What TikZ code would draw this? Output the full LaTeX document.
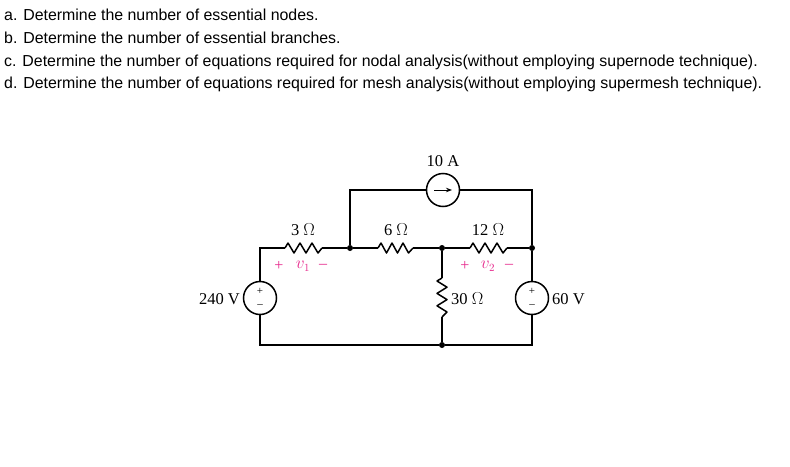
\documentclass[tikz,border=0pt]{standalone}
\usepackage{fontspec}
\setmainfont{Liberation Serif}
\newfontfamily\qfont{Liberation Sans}
\usetikzlibrary{arrows.meta}
\definecolor{pinkc}{RGB}{230,40,140}
\begin{document}
\begin{tikzpicture}[x=1pt,y=-1pt,
  wire/.style={line width=1.5pt},
  qtext/.style={anchor=base west,inner sep=0pt,font=\qfont\fontsize{15.9}{17}\selectfont},
  lbl/.style={inner sep=1pt,font=\fontsize{16.5}{18}\selectfont},
  pol/.style={inner sep=0pt,text=pinkc,font=\fontsize{16}{18}\selectfont},
  dot/.style={circle,fill,inner sep=0pt,minimum size=6pt},
  sgn/.style={inner sep=0pt,font=\fontsize{11}{11}\selectfont},
  src/.style={circle,draw,line width=1.5pt,minimum size=33pt,inner sep=0pt}]
\useasboundingbox (0,0) rectangle (790,466);
\node[qtext] (t1) at (4,20) {a. Determine the number of essential nodes.};
\node[qtext] (t2) at (4,43) {b. Determine the number of essential branches.};
\node[qtext] (t3) at (4,66) {c. Determine the number of equations required for nodal analysis(without employing supernode technique).};
\node[qtext] (t4) at (4,88) {d. Determine the number of equations required for mesh analysis(without employing supermesh technique).};
% nodes
\coordinate (tl) at (260,248);
\coordinate (bl) at (260,345);
\node[dot] (n1) at (350,248) {};
\node[dot] (n2) at (442,248) {};
\node[dot] (n3) at (532,248) {};
\node[dot] (nb) at (442,345) {};
\coordinate (br) at (532,345);
\coordinate (ta) at (350,190);
\coordinate (tb) at (532,190);
\node[src] (cs) at (443,190) {};
\draw[-{Stealth[length=6pt]},line width=1pt] ([xshift=-9pt]cs.center) -- ([xshift=9pt]cs.center);
\node[src] (vs1) at (260,298) {};
\node[src] (vs2) at (532,298) {};
\node[sgn] (vs1p) at (260,291) {+};
\node[sgn] (vs1m) at (260,306) {\textendash};
\node[sgn] (vs2p) at (532,291) {+};
\node[sgn] (vs2m) at (532,306) {\textendash};
% resistors
\coordinate (r1a) at (285,248); \coordinate (r1b) at (322,248);
\coordinate (r2a) at (378,248); \coordinate (r2b) at (413,248);
\coordinate (r3a) at (470,248); \coordinate (r3b) at (507,248);
\coordinate (r4a) at (442,278); \coordinate (r4b) at (442,317);
\draw[wire,line join=round] (r1a) -- ++(3,-5) -- ++(6,10) -- ++(6,-10) -- ++(6,10) -- ++(6,-10) -- ++(6,10) -- (r1b);
\draw[wire,line join=round] (r2a) -- ++(3,-5) -- ++(5.5,10) -- ++(5.5,-10) -- ++(5.5,10) -- ++(5.5,-10) -- ++(5.5,10) -- (r2b);
\draw[wire,line join=round] (r3a) -- ++(3,-5) -- ++(6,10) -- ++(6,-10) -- ++(6,10) -- ++(6,-10) -- ++(6,10) -- (r3b);
\draw[wire,line join=round] (r4a) -- ++(-5,3) -- ++(10,6.2) -- ++(-10,6.2) -- ++(10,6.2) -- ++(-10,6.2) -- ++(10,6.2) -- (r4b);
% wires
\draw[wire] (vs1.north) -- (tl) -- (r1a);
\draw[wire] (r1b) -- (n1) -- (r2a);
\draw[wire] (r2b) -- (n2) -- (r3a);
\draw[wire] (r3b) -- (n3) -- (vs2.north);
\draw[wire] (n2) -- (r4a);
\draw[wire] (r4b) -- (nb);
\draw[wire] (vs1.south) -- (bl) -- (nb) -- (br) -- (vs2.south);
\draw[wire] (n1) -- (ta) -- (cs.west);
\draw[wire] (cs.east) -- (tb) -- (n3);
% labels
\node[lbl] (l10) at (443,161) {10 A};
\node[lbl] (l3) at (303,230) {3 $\Omega$};
\node[lbl] (l6) at (396,230) {6 $\Omega$};
\node[lbl] (l12) at (488,230) {12 $\Omega$};
\node[lbl,anchor=west] (l30) at (450,299) {30 $\Omega$};
\node[lbl,anchor=east] (l240) at (241,299) {240 V};
\node[lbl,anchor=west] (l60) at (551,299) {60 V};
\node[pol] (p1) at (279,266) {+};
\node[pol] (v1) at (303,266) {$v_1$};
\node[pol] (m1) at (323,266) {\textendash};
\node[pol] (p2) at (465,266) {+};
\node[pol] (v2) at (488,266) {$v_2$};
\node[pol] (m2) at (509,266) {\textendash};
\end{tikzpicture}
\end{document}
